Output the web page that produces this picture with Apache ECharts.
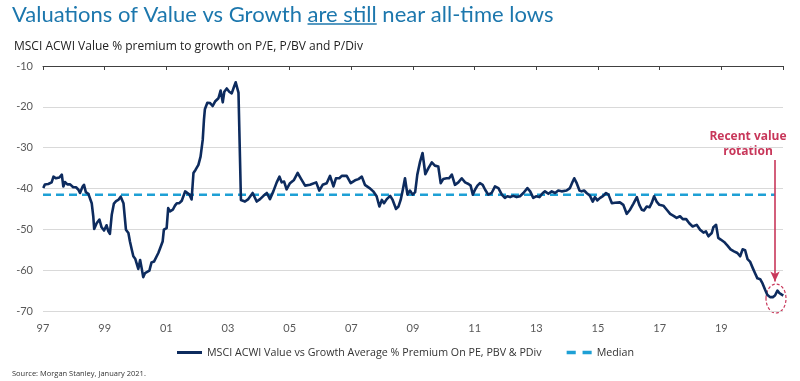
<!DOCTYPE html>
<html>
<head>
<meta charset="utf-8">
<script src="https://cdn.jsdelivr.net/npm/echarts@6/dist/echarts.min.js"></script>
<style>
html,body{margin:0;padding:0;background:#fff;}
#chart{width:800px;height:381px;}
</style>
</head>
<body>
<div id="chart"></div>
<script>
// ---- Data ----
const xTickLabels = ['97','99','01','03','05','07','09','11','13','15','17','19'];
const seriesName = 'MSCI ACWI Value vs Growth Average % Premium On PE, PBV & PDiv';
const medianName = 'Median';
const medianValue = -41.5;
const medianSpan = [1997.0, 2020.74];

const years = [
1997.01,1997.06,1997.17,1997.28,1997.34,1997.42,1997.53,1997.61,1997.66,1997.71,1997.79,1997.88,1997.93,1997.98,
1998.07,1998.15,1998.20,1998.28,1998.33,1998.39,1998.47,1998.52,1998.58,1998.63,1998.66,1998.74,1998.83,1998.90,1998.98,
1999.06,1999.12,1999.17,1999.23,1999.30,1999.37,1999.44,1999.52,1999.61,1999.69,1999.77,1999.82,1999.88,1999.93,1999.99,
2000.04,2000.09,2000.15,2000.20,2000.25,2000.31,2000.36,2000.45,2000.52,2000.60,2000.66,2000.74,2000.82,2000.88,2000.92,
2001.01,2001.06,2001.12,2001.21,2001.28,2001.34,2001.42,2001.50,2001.55,2001.61,2001.66,2001.75,2001.82,2001.88,2001.95,
2002.04,2002.11,2002.18,2002.22,2002.25,2002.33,2002.42,2002.50,2002.58,2002.69,2002.76,2002.83,2002.88,2002.96,
2003.04,2003.12,2003.19,2003.25,2003.34,2003.42,2003.55,2003.66,2003.80,2003.93,
2004.04,2004.15,2004.26,2004.36,2004.47,2004.58,2004.67,2004.74,2004.82,2004.90,
2005.01,2005.14,2005.26,2005.36,2005.50,2005.66,2005.86,2005.96,
2006.07,2006.20,2006.31,2006.42,2006.50,2006.61,2006.69,2006.85,2006.98,
2007.12,2007.23,2007.34,2007.44,2007.59,2007.71,2007.82,2007.91,2007.99,
2008.06,2008.15,2008.26,2008.34,2008.45,2008.53,2008.60,2008.67,2008.74,2008.82,2008.90,2008.99,
2009.07,2009.14,2009.23,2009.31,2009.40,2009.50,2009.61,2009.71,2009.82,2009.90,2009.98,
2010.09,2010.17,2010.26,2010.36,2010.47,2010.58,2010.69,2010.80,2010.87,2010.94,
2011.01,2011.09,2011.17,2011.26,2011.34,2011.44,2011.55,2011.66,2011.77,2011.88,2011.98,
2012.06,2012.15,2012.25,2012.36,2012.47,2012.58,2012.71,2012.80,2012.90,2012.99,
2013.10,2013.21,2013.28,2013.39,2013.50,2013.61,2013.71,2013.82,2013.98,
2014.09,2014.18,2014.23,2014.31,2014.40,2014.47,2014.55,2014.63,2014.74,2014.83,2014.90,2014.98,
2015.07,2015.17,2015.26,2015.34,2015.45,2015.55,2015.71,2015.82,2015.93,
2016.04,2016.15,2016.26,2016.34,2016.42,2016.49,2016.58,2016.67,2016.74,2016.82,2016.90,2016.99,
2017.12,2017.23,2017.34,2017.45,2017.55,2017.66,2017.75,2017.86,2017.96,
2018.07,2018.20,2018.31,2018.42,2018.50,2018.58,2018.69,2018.74,2018.83,2018.90,2018.98,
2019.09,2019.20,2019.30,2019.41,2019.52,2019.61,2019.69,2019.77,2019.85,2019.93,
2020.02,2020.09,2020.17,2020.26,2020.34,2020.42,2020.49,2020.58,2020.67,2020.74,2020.82,2020.88,2020.96,2021.01
];

const values = [
-39.9,-39.0,-38.9,-38.5,-37.1,-37.5,-37.3,-36.6,-39.5,-38.4,-39.0,-39.0,-39.1,-39.7,
-39.7,-40.3,-41.1,-39.6,-39.1,-40.9,-41.3,-41.5,-43.6,-46.8,-49.9,-48.5,-47.6,-49.5,-50.3,
-49.0,-50.5,-51.1,-46.4,-43.7,-43.1,-42.8,-42.0,-43.6,-50.1,-50.9,-53.0,-55.0,-56.6,-57.2,
-57.2,-59.7,-57.5,-59.5,-61.7,-60.7,-60.3,-60.1,-58.1,-57.9,-57.5,-55.8,-54.2,-53.0,-50.1,
-49.7,-44.8,-45.6,-45.2,-44.2,-43.6,-43.6,-43.0,-42.7,-40.7,-40.5,-41.5,-42.7,-36.2,-35.4,
-34.2,-32.2,-28.1,-23.2,-20.6,-19.0,-19.1,-19.8,-18.7,-17.9,-16.0,-18.9,-16.3,-15.5,
-16.3,-16.7,-15.2,-14.0,-16.5,-42.8,-43.2,-42.6,-41.1,-43.2,
-42.6,-41.8,-41.1,-42.6,-40.7,-38.5,-37.1,-38.5,-38.3,-40.2,
-38.7,-37.9,-36.2,-37.5,-39.3,-39.1,-38.5,-40.5,
-39.1,-38.7,-36.9,-39.5,-37.5,-37.5,-36.9,-36.9,-38.7,
-38.0,-37.7,-37.1,-39.1,-39.9,-40.7,-41.9,-44.4,-42.8,
-43.6,-42.6,-41.8,-42.8,-45.0,-44.4,-42.8,-40.3,-37.5,-41.5,-40.5,-41.5,
-40.9,-36.6,-33.4,-31.3,-36.5,-35.0,-33.6,-34.4,-34.6,-38.7,-37.7,
-37.5,-37.5,-36.6,-39.1,-38.5,-37.5,-38.5,-38.9,-39.3,-41.5,
-40.3,-39.3,-38.7,-39.1,-40.3,-41.5,-41.1,-39.5,-39.9,-41.5,-42.3,
-41.9,-42.1,-41.8,-42.1,-41.9,-41.1,-39.9,-40.7,-42.3,-41.9,
-42.1,-41.1,-40.7,-41.3,-40.7,-41.1,-40.5,-40.7,-40.5,
-39.9,-38.3,-37.5,-38.7,-40.5,-40.7,-40.5,-41.1,-41.8,-43.2,-42.1,-42.9,
-42.3,-41.8,-41.1,-41.5,-43.6,-43.5,-43.4,-44.0,-46.2,
-45.2,-43.7,-42.1,-44.0,-45.2,-45.4,-44.4,-44.6,-43.6,-41.9,-43.2,-44.0,
-44.2,-45.2,-46.2,-46.7,-47.2,-46.8,-47.5,-47.5,-48.5,
-49.3,-48.9,-50.1,-50.8,-50.5,-51.7,-50.9,-49.5,-48.9,-52.1,-52.5,
-53.1,-54.0,-54.9,-55.4,-55.8,-56.6,-54.9,-55.1,-57.3,-57.9,
-59.5,-60.7,-62.0,-62.2,-63.3,-64.8,-66.0,-66.6,-66.6,-66.2,-65.0,-65.6,-66.0,-66.2
];

// annotation arrow (data space)
const arrowYear = 2020.74;
const arrowFrom = -33.0;
const arrowTo = -62.8;

// title pieces
const titleParts = ['Valuations of Value vs Growth ', 'are still', ' near all-time lows'];

// ---- Chart ----
const chart = echarts.init(document.getElementById('chart'), null, {renderer:'canvas'});
const titleColor = '#1c77ad';
const accent = '#c8375a';
const navy = '#0d2b5e';
const cyan = '#1ea0d5';
const font = 'Lato, "Noto Sans", sans-serif';
const titleFont = '22px Lato, "Noto Sans", sans-serif';

// measure title segments to flow them and place the underline
const mctx = document.createElement('canvas').getContext('2d');
mctx.font = titleFont;
const titleX0 = 12;
const w0 = mctx.measureText(titleParts[0]).width;
const w1 = mctx.measureText(titleParts[1]).width;
const x1 = titleX0 + w0;
const x2 = x1 + w1;

const option = {
  animation: false,
  backgroundColor: '#ffffff',
  grid: {left: 43, right: 17, top: 66, bottom: 70, containLabel: false},
  legend: {
    left: 172, top: 342,
    itemWidth: 25, itemHeight: 14, itemGap: 25,
    textStyle: {fontFamily: '"Open Sans", "Noto Sans", sans-serif', fontSize: 10.7, color: '#333'},
    data: [
      {name: seriesName, icon: 'path://M0,0 L25,0 L25,3 L0,3 Z'},
      {name: medianName, icon: 'path://M0,0 L8,0 L8,3 L0,3 Z M14,0 L22,0 L22,3 L14,3 Z'}
    ]
  },
  xAxis: [
    {
      type: 'value', position: 'bottom', min: 1997, max: 2021, interval: 2,
      axisLine: {show: false}, axisTick: {show: false}, splitLine: {show: false},
      axisLabel: {
        margin: 12, color: '#595959', fontFamily: font, fontSize: 11,
        formatter: function (v) { const i = Math.round((v - 1997) / 2); return xTickLabels[i] || ''; }
      }
    },
    {
      type: 'value', position: 'top', min: 1997, max: 2021, interval: 2,
      axisLine: {show: true, lineStyle: {color: '#404040', width: 1}},
      axisTick: {show: true, inside: true, length: 4, lineStyle: {color: '#404040'}},
      axisLabel: {show: false}, splitLine: {show: false}
    }
  ],
  yAxis: {
    type: 'value', min: -70, max: -10, interval: 10,
    axisLine: {show: false}, axisTick: {show: false},
    splitLine: {show: true, lineStyle: {color: '#d9d9d9', width: 1}},
    axisLabel: {margin: 10, color: '#595959', fontFamily: font, fontSize: 11}
  },
  series: [
    {
      name: seriesName, type: 'line', xAxisIndex: 0,
      data: years.map((y, i) => [y, values[i]]),
      showSymbol: false, symbol: 'none',
      lineStyle: {color: navy, width: 2.6, join: 'round'},
      itemStyle: {color: navy},
      z: 3,
      markLine: {
        silent: true, symbol: ['none', 'arrow'], symbolSize: [7, 10],
        label: {show: false},
        lineStyle: {color: accent, width: 1.6, type: 'solid'},
        data: [[{coord: [arrowYear, arrowFrom]}, {coord: [arrowYear, arrowTo]}]]
      }
    },
    {
      name: medianName, type: 'line', xAxisIndex: 0,
      data: [[medianSpan[0], medianValue], [medianSpan[1], medianValue]],
      showSymbol: false, symbol: 'none',
      lineStyle: {color: cyan, width: 2.5, type: [8, 5]},
      itemStyle: {color: cyan},
      z: 2
    }
  ],
  graphic: [
    {type: 'text', x: titleX0, y: 4, style: {text: titleParts.join(''), fill: titleColor, font: titleFont}},
    {type: 'line', shape: {x1: x1, y1: 24, x2: x2, y2: 24}, style: {stroke: titleColor, lineWidth: 1.3}},
    {type: 'text', left: 14, top: 41, style: {text: 'MSCI ACWI Value % premium to growth on P/E, P/BV and P/Div', fill: '#222', font: '12px "Open Sans", "Noto Sans", sans-serif'}},
    {type: 'text', left: 12, top: 370, style: {text: 'Source: Morgan Stanley, January 2021.', fill: '#333', font: '7.5px "Open Sans", "Noto Sans", sans-serif'}},
    {type: 'text', x: 748, y: 137, style: {text: 'Recent value', fill: accent, font: 'bold 12px "Open Sans", "Noto Sans", sans-serif', textAlign: 'center', textVerticalAlign: 'middle'}},
    {type: 'text', x: 748, y: 152, style: {text: 'rotation', fill: accent, font: 'bold 12px "Open Sans", "Noto Sans", sans-serif', textAlign: 'center', textVerticalAlign: 'middle'}},
    {type: 'ellipse', shape: {cx: 776, cy: 298.5, rx: 10, ry: 14.5}, style: {fill: 'none', stroke: accent, lineWidth: 1.2, lineDash: [3, 2]}}
  ]
};
chart.setOption(option);
</script>
</body>
</html>
